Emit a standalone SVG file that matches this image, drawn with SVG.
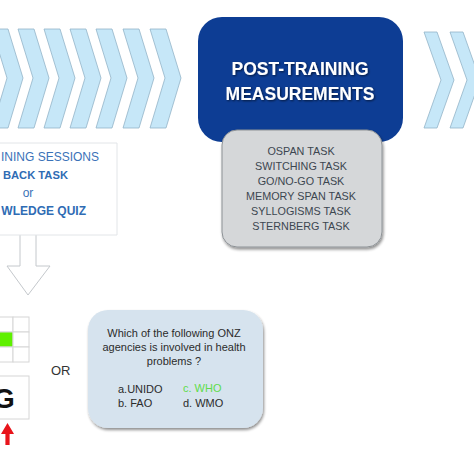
<svg xmlns="http://www.w3.org/2000/svg" width="474" height="474" viewBox="0 0 474 474">
<defs>
<style>
.chev{fill:#c6e7f8;stroke:#93b4c8;stroke-width:0.8}
.t{font-family:"Liberation Sans",Arial,sans-serif}
.task{font-family:"Liberation Sans",Arial,sans-serif;font-size:10.8px;fill:#3c4650;text-anchor:middle}
.quiz{font-family:"Liberation Sans",Arial,sans-serif;font-size:11px;fill:#2b2b2b}
.lb{font-family:"Liberation Sans",Arial,sans-serif;font-size:12px;fill:#3a72b8;text-anchor:end}
.lbb{font-weight:bold;fill:#2f6cb4}
.grid{fill:#fff;stroke:#d6d6d6;stroke-width:1}
</style>
<path id="ch" d="M0,29 L16,29 L31,78 L16,128 L0,128 L15,78 Z"/>
<path id="chr" d="M0,32 L13,32 L30,80 L13,128 L0,128 L17,80 Z"/>
<filter id="sh" x="-10%" y="-10%" width="130%" height="130%">
<feGaussianBlur in="SourceAlpha" stdDeviation="1.5"/>
<feOffset dx="1" dy="2" result="o"/>
<feComponentTransfer><feFuncA type="linear" slope="0.45"/></feComponentTransfer>
<feMerge><feMergeNode/><feMergeNode in="SourceGraphic"/></feMerge>
</filter>
<filter id="tsh" x="-5%" y="-20%" width="110%" height="150%">
<feGaussianBlur in="SourceAlpha" stdDeviation="0.8"/>
<feOffset dx="1" dy="1"/>
<feComponentTransfer><feFuncA type="linear" slope="0.6"/></feComponentTransfer>
<feMerge><feMergeNode/><feMergeNode in="SourceGraphic"/></feMerge>
</filter>
</defs>
<rect width="474" height="474" fill="#fff"/>

<g id="chevrons-left">
<use href="#ch" class="chev" x="-8"/>
<use href="#ch" class="chev" x="18"/>
<use href="#ch" class="chev" x="44"/>
<use href="#ch" class="chev" x="70"/>
<use href="#ch" class="chev" x="96"/>
<use href="#ch" class="chev" x="123"/>
<use href="#ch" class="chev" x="150"/>
</g>

<g id="chevrons-right">
<use href="#chr" class="chev" x="424"/>
<use href="#chr" class="chev" x="450"/>
</g>

<g id="post-training">
<rect x="198" y="17" width="205" height="125" rx="24" fill="#0d3d94"/>
<g filter="url(#tsh)" class="t" font-size="17.5" font-weight="bold" fill="#fff" text-anchor="middle">
<text x="300" y="75">POST-TRAINING</text>
<text x="300" y="100">MEASUREMENTS</text>
</g>
</g>

<g id="tasks">
<rect x="222" y="130" width="160" height="117" rx="15" fill="#d5d7d9" stroke="#8d9296" stroke-width="1" filter="url(#sh)"/>
<text class="task" x="301" y="155">OSPAN TASK</text>
<text class="task" x="301" y="170">SWITCHING TASK</text>
<text class="task" x="301" y="185">GO/NO-GO TASK</text>
<text class="task" x="301" y="200">MEMORY SPAN TASK</text>
<text class="task" x="301" y="215">SYLLOGISMS TASK</text>
<text class="task" x="301" y="230">STERNBERG TASK</text>
</g>

<g id="connectors">
<path d="M20,235 L20,266 L7,266 L28,295 L50,266 L36,266 L36,235" fill="#fff" stroke="#c4c8cc" stroke-width="1"/>
<path d="M7.5,423 L14,434 L9.6,434 L9.6,445 L5.4,445 L5.4,434 L1,434 Z" fill="#e8141b"/>
</g>

<g id="training-sessions">
<path d="M-1,143 L117,143 L117,235 L-1,235" fill="#fff" stroke="#e2e5e8" stroke-width="1"/>
<text class="lb" x="99" y="161">INING SESSIONS</text>
<text class="lb lbb" x="68" y="179" style="font-size:11.2px">BACK TASK</text>
<text class="lb" x="28" y="197" style="text-anchor:middle">or</text>
<text class="lb lbb" x="86" y="215">WLEDGE QUIZ</text>
</g>

<g id="grid">
<rect class="grid" x="-1" y="317" width="14" height="15"/>
<rect class="grid" x="13" y="317" width="16" height="15"/>
<rect x="-1" y="332" width="14" height="15" fill="#5ef000" stroke="#d6d6d6"/>
<rect class="grid" x="13" y="332" width="16" height="15"/>
<rect class="grid" x="-1" y="347" width="14" height="15"/>
<rect class="grid" x="13" y="347" width="16" height="15"/>
</g>

<g id="g-box">
<rect x="-1" y="376" width="30" height="43" fill="#fff" stroke="#d6d6d6"/>
<text class="t" x="-7" y="408" font-size="28" font-weight="bold" fill="#111">G</text>
</g>

<g id="or-label">
<text class="t" x="51" y="375" font-size="13" fill="#333">OR</text>
</g>

<g id="quiz">
<rect x="88" y="310" width="175" height="118" rx="20" fill="#d6e3ee" filter="url(#sh)"/>
<text class="quiz" x="174" y="337" text-anchor="middle">Which of the following ONZ</text>
<text class="quiz" x="174" y="351" text-anchor="middle">agencies is involved in health</text>
<text class="quiz" x="174" y="365" text-anchor="middle">problems ?</text>
<text class="quiz" x="118" y="393">a.UNIDO</text>
<text class="quiz" x="118" y="407">b. FAO</text>
<text class="quiz" x="183" y="392" style="fill:#5fdc4a">c. WHO</text>
<text class="quiz" x="183" y="407">d. WMO</text>
</g>
</svg>
